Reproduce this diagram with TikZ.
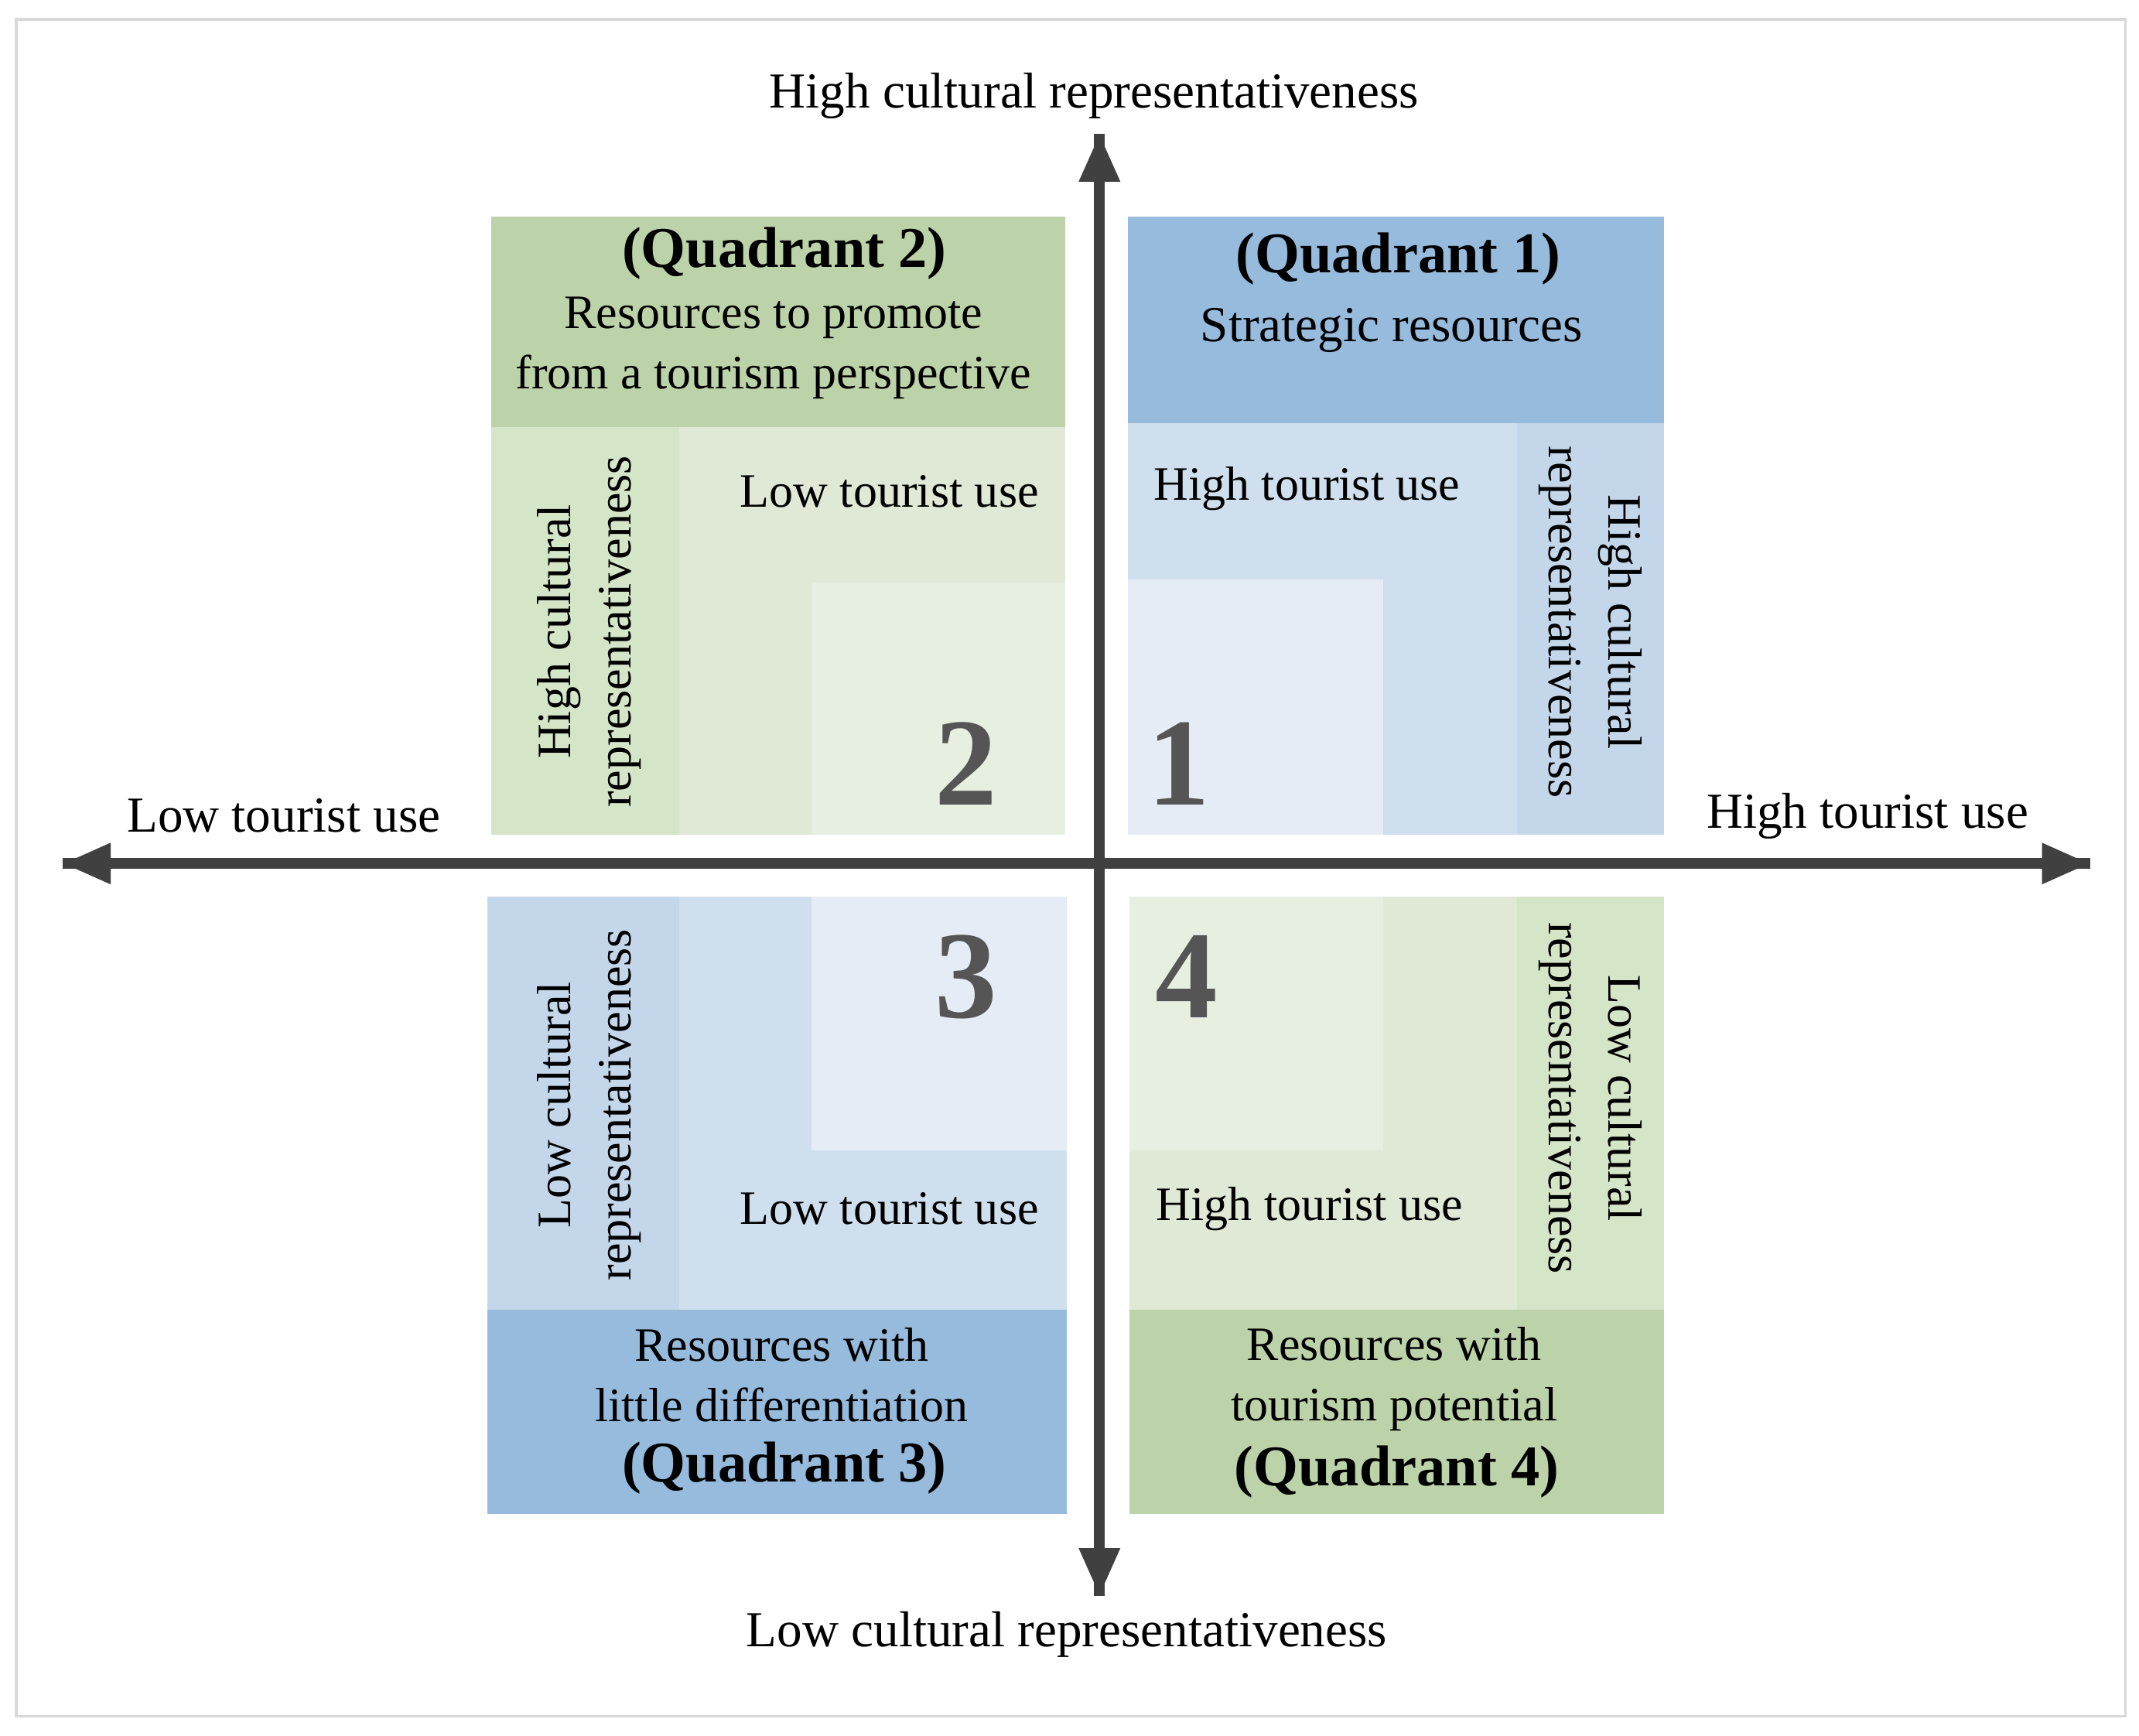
\documentclass[tikz,border=0pt]{standalone}
\usepackage{fontspec}
\setmainfont{Liberation Serif}
\usetikzlibrary{arrows.meta}
\definecolor{gA}{HTML}{BCD3A9}\definecolor{gB}{HTML}{D5E5C8}\definecolor{gC}{HTML}{DFE9D6}\definecolor{gD}{HTML}{E6EFE0}
\definecolor{bA}{HTML}{97BBDD}\definecolor{bB}{HTML}{C4D7EA}\definecolor{bC}{HTML}{CFDFEE}\definecolor{bD}{HTML}{E5ECF6}
\definecolor{ax}{HTML}{404040}\definecolor{num}{HTML}{555555}
\begin{document}
\begin{tikzpicture}[x=0.01cm,y=-0.01cm,
 t/.style={font=\fontsize{10.5pt}{12pt}\selectfont,align=center,inner sep=0},
 tb/.style={font=\fontsize{10pt}{12.5pt}\selectfont,align=center,inner sep=0},
 q/.style={font=\fontsize{12pt}{14pt}\selectfont\bfseries,inner sep=0},
 n/.style={font=\fontsize{26pt}{28pt}\selectfont\bfseries,text=num,inner sep=0}]
\useasboundingbox (0,0) rectangle (1568,1272);
\fill[white] (0,0) rectangle (1568,1272);
\draw[black!15,line width=0.6pt] (12,14) rectangle (1558,1258);
% Q2
\fill[gA] (360,159) rectangle (781,313);
\fill[gB] (360,313) rectangle (498,612);
\fill[gC] (498,313) rectangle (781,612);
\fill[gD] (595,427) rectangle (781,612);
% Q1
\fill[bA] (827,159) rectangle (1220,310);
\fill[bC] (827,310) rectangle (1112,612);
\fill[bB] (1112,310) rectangle (1220,612);
\fill[bD] (827,425) rectangle (1014,612);
% Q3
\fill[bB] (357,657) rectangle (498,960);
\fill[bC] (498,657) rectangle (782,960);
\fill[bD] (595,657) rectangle (782,843);
\fill[bA] (357,960) rectangle (782,1110);
% Q4
\fill[gC] (828,657) rectangle (1112,960);
\fill[gB] (1112,657) rectangle (1220,960);
\fill[gD] (828,657) rectangle (1014,843);
\fill[gA] (828,960) rectangle (1220,1110);
% axes
\coordinate (T) at (806,98); \coordinate (B) at (806,1170);
\coordinate (L) at (46,633); \coordinate (R) at (1532,633);
\draw[ax,line width=2.2pt,-{Triangle[length=10pt,width=8pt]}] (B) -- (T);
\draw[ax,line width=2.2pt,-{Triangle[length=10pt,width=8pt]}] (T) -- (B);
\draw[ax,line width=2.2pt,-{Triangle[length=10pt,width=8pt]}] (R) -- (L);
\draw[ax,line width=2.2pt,-{Triangle[length=10pt,width=8pt]}] (L) -- (R);
\node[t] (at) at (802,70) {High cultural representativeness};
\node[t] (ab) at (782,1198) {Low cultural representativeness};
\node[t] (al) at (208,598) {Low tourist use};
\node[t] (ar) at (1369,598) {High tourist use};
% Q2 texts
\node[q] (q2) at (575,186) {(Quadrant 2)};
\node[tb] (q2t) at (567,255) {Resources to promote\\from a tourism perspective};
\node[tb,rotate=90] (q2v) at (432,463) {High cultural\\representativeness};
\node[tb] (q2l) at (652,360) {Low tourist use};
\node[n] (n2) at (708,560) {2};
% Q1
\node[q] (q1) at (1025,190) {(Quadrant 1)};
\node[t] (q1t) at (1020,242) {Strategic resources};
\node[tb] (q1h) at (958,358) {High tourist use};
\node[tb,rotate=-90] (q1v) at (1166,456) {High cultural\\representativeness};
\node[n] (n1) at (864,560) {1};
% Q3
\node[tb,rotate=90] (q3v) at (432,810) {Low cultural\\representativeness};
\node[tb] (q3l) at (652,886) {Low tourist use};
\node[n] (n3) at (708,716) {3};
\node[tb] (q3t) at (573,1008) {Resources with\\little differentiation};
\node[q] (q3) at (575,1076) {(Quadrant 3)};
% Q4
\node[n] (n4) at (870,716) {4};
\node[tb] (q4h) at (960,886) {High tourist use};
\node[tb,rotate=-90] (q4v) at (1166,805) {Low cultural\\representativeness};
\node[tb] (q4t) at (1022,1011) {Resources with\\tourism potential};
\node[q] (q4) at (1024,1079) {(Quadrant 4)};
\end{tikzpicture}
\end{document}
